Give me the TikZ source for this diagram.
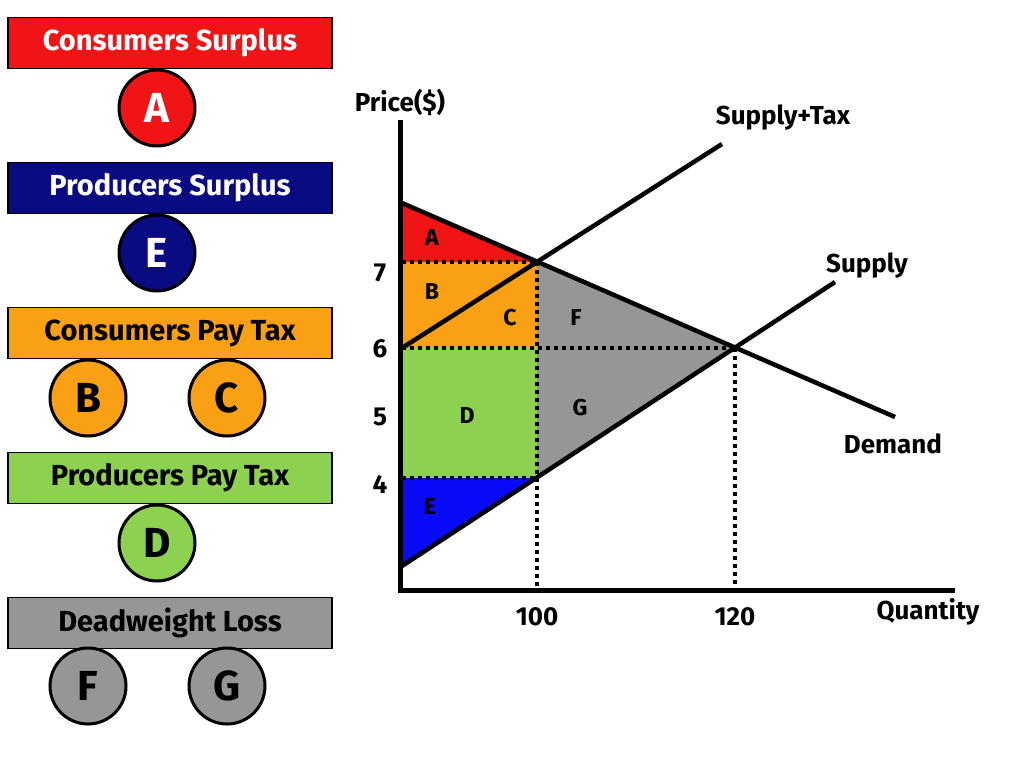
\documentclass[tikz,border=0pt]{standalone}
\usepackage{fontspec}
\setmainfont{Fira Sans}
\begin{document}
\begin{tikzpicture}[x=1pt,y=-1pt,
 lbox/.style={draw=black,line width=1.5pt,minimum width=324pt,minimum height=51pt,font=\fontsize{29}{32}\selectfont\bfseries},
 circ/.style={circle,draw=black,line width=3pt,minimum size=76pt,font=\fontsize{42}{46}\selectfont\bfseries},
 lab/.style={font=\fontsize{26}{30}\selectfont\bfseries},
 rl/.style={font=\fontsize{23}{27}\selectfont\bfseries},
 dot/.style={line width=4pt,dash pattern=on 4pt off 4pt},
 ln/.style={line width=4.5pt}]
\definecolor{cred}{RGB}{240,20,20}
\definecolor{cnavy}{RGB}{10,10,130}
\definecolor{corange}{RGB}{250,160,20}
\definecolor{cgreen}{RGB}{140,210,80}
\definecolor{cgray}{RGB}{150,150,150}
\definecolor{cblue}{RGB}{10,10,250}
\useasboundingbox (0,0) rectangle (1024,768);
\fill[white] (0,0) rectangle (1024,768);
% legend
\node[lbox,fill=cred,text=white] (bA) at (170,43) {Consumers Surplus};
\node[circ,fill=cred,text=white] (cA) at (157,108) {A};
\node[lbox,fill=cnavy,text=white] (bE) at (170,188) {Producers Surplus};
\node[circ,fill=cnavy,text=white] (cE) at (157,253) {E};
\node[lbox,fill=corange] (bB) at (170,333) {Consumers Pay Tax};
\node[circ,fill=corange] (cB) at (88,398) {B};
\node[circ,fill=corange] (cC) at (227,398) {C};
\node[lbox,fill=cgreen] (bD) at (170,478) {Producers Pay Tax};
\node[circ,fill=cgreen] (cD) at (157,543) {D};
\node[lbox,fill=cgray] (bF) at (170,623) {Deadweight Loss};
\node[circ,fill=cgray] (cF) at (88,686) {F};
\node[circ,fill=cgray] (cG) at (227,686) {G};
% regions
\fill[cred] (402,203) -- (537,262) -- (402,262) -- cycle;
\fill[corange] (402,262) -- (537,262) -- (537,348) -- (402,348) -- cycle;
\fill[cgreen] (402,348) -- (537,348) -- (537,478) -- (402,478) -- cycle;
\fill[cblue] (402,478) -- (537,478) -- (402,566) -- cycle;
\fill[cgray] (537,262) -- (735,348) -- (537,478) -- cycle;
% dotted
\coordinate (p7) at (402,262); \coordinate (e7) at (537,262);
\coordinate (p6) at (402,348); \coordinate (eq) at (735,348);
\coordinate (p4) at (402,478); \coordinate (e4) at (537,478);
\coordinate (q100) at (537,590); \coordinate (q120) at (735,590);
\draw[dot] (p7) -- (e7);
\draw[dot] (p6) -- (eq);
\draw[dot] (p4) -- (e4);
\draw[dot] (e7) -- (q100);
\draw[dot] (eq) -- (q120);
% curves
\coordinate (d0) at (402,203); \coordinate (d1) at (895,417);
\coordinate (t0) at (402,348); \coordinate (t1) at (722,144);
\coordinate (s0) at (402,566); \coordinate (s1) at (835,282);
\draw[ln] (d0) -- (d1);
\draw[ln] (t0) -- (t1);
\draw[ln] (s0) -- (s1);
% axes
\coordinate (o) at (400,590); \coordinate (yt) at (400,120); \coordinate (xr) at (955,590);
\draw[line width=5pt] (yt) -- (o) -- (xr);
% labels
\node[rl] (lA) at (432,238) {A};
\node[rl] (lB) at (432,292) {B};
\node[rl] (lC) at (510,318) {C};
\node[rl] (lF) at (576,318) {F};
\node[rl] (lD) at (467,416) {D};
\node[rl] (lG) at (580,408) {G};
\node[rl] (lE) at (430,507) {E};
\node[lab] (n7) at (380,273) {7};
\node[lab] (n6) at (380,349) {6};
\node[lab] (n5) at (380,417) {5};
\node[lab] (n4) at (380,484) {4};
\node[lab] (n100) at (537,617) {100};
\node[lab] (n120) at (735,617) {120};
\node[lab] (nq) at (928,612) {Quantity};
\node[lab] (np) at (400,102) {Price(\$)};
\node[lab] (nst) at (783,118) {Supply+Tax};
\node[lab] (ns) at (867,266) {Supply};
\node[lab] (nd) at (893,444) {Demand};
\end{tikzpicture}
\end{document}
